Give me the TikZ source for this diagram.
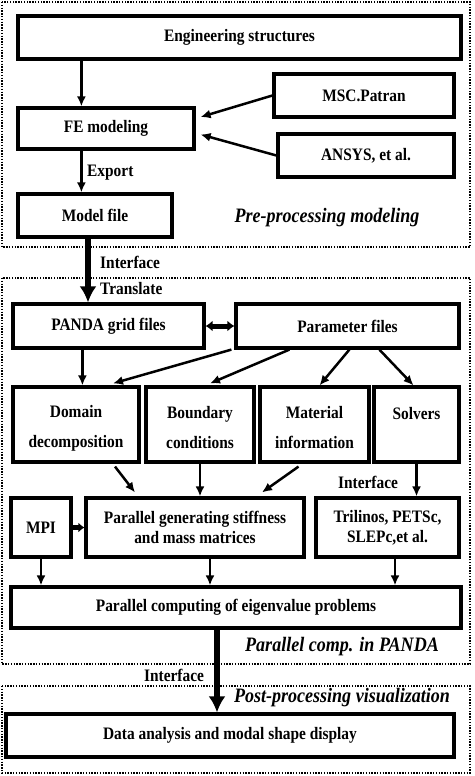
\documentclass[tikz,border=0pt]{standalone}
\usepackage{fontspec}
\setmainfont{Liberation Serif}[FakeStretch=0.88]
\usetikzlibrary{arrows.meta}
\begin{document}
\begin{tikzpicture}[x=1pt,y=-1pt,
  box/.style={draw, line width=3.2pt, inner sep=0pt, align=center,
    font=\fontsize{17.5}{20}\selectfont\bfseries},
  tallbox/.style={box, font=\fontsize{17.5}{30}\selectfont\bfseries},
  arr/.style={line width=2.5pt, -{Latex[length=10pt,width=9pt]}},
  thickarr/.style={line width=6.5pt, -{Latex[length=16pt,width=17pt]}},
  dbl/.style={line width=5pt, {Latex[length=7pt,width=11pt]}-{Latex[length=7pt,width=11pt]}},
  short/.style={line width=5pt, -{Latex[length=6pt,width=10pt]}},
  grp/.style={line width=1.6pt, dash pattern=on 1.4pt off 1.4pt},
  lbl/.style={inner sep=0pt, font=\fontsize{17.5}{20}\selectfont\bfseries},
  ital/.style={inner sep=0pt, font=\fontsize{20.5}{24}\selectfont\bfseries\itshape}]
\useasboundingbox (0,0) rectangle (474,776);
\fill[white] (0,0) rectangle (474,776);

% group frames
\draw[grp] (2,2) rectangle (470,247);
\draw[grp] (2,278) rectangle (470,664);
\draw[grp] (2,686) rectangle (470,773);

% boxes
\node[box, minimum width=443pt, minimum height=43pt] (eng) at (239.5,37.5) {Engineering structures};
\node[box, minimum width=176pt, minimum height=41pt] (fe) at (106,128.5) {FE modeling};
\node[box, minimum width=180pt, minimum height=43pt] (msc) at (364,95.5) {MSC.Patran};
\node[box, minimum width=176pt, minimum height=43pt] (ansys) at (366,155.5) {ANSYS, et al.};
\node[box, minimum width=154pt, minimum height=43pt] (model) at (95,215.5) {Model file};
\node[box, minimum width=191pt, minimum height=44pt] (panda) at (108.5,326) {PANDA grid files};
\node[box, minimum width=223pt, minimum height=44pt] (param) at (347.5,326) {Parameter files};
\node[tallbox, minimum width=126pt, minimum height=75pt] (dom) at (76,424.5) {\rule{0pt}{19pt}Domain\\decomposition};
\node[tallbox, minimum width=108pt, minimum height=75pt] (bnd) at (200,424.5) {\rule{0pt}{19pt}Boundary\\conditions};
\node[tallbox, minimum width=109pt, minimum height=75pt] (mat) at (314.5,424.5) {\rule{0pt}{19pt}Material\\information};
\node[tallbox, minimum width=85pt, minimum height=75pt] (sol) at (416.5,424.5) {\rule{0pt}{19pt}Solvers\\\phantom{X}};
\node[box, minimum width=60pt, minimum height=59pt] (mpi) at (41,527.5) {MPI};
\node[box, minimum width=218pt, minimum height=59pt] (pgen) at (195,527.5) {Parallel generating stiffness\\and mass matrices};
\node[box, minimum width=143pt, minimum height=59pt] (tril) at (387.5,527.5) {Trilinos, PETSc,\\SLEPc,et al.};
\node[box, minimum width=450pt, minimum height=41pt] (pcomp) at (236,607.5) {Parallel computing of eigenvalue problems};
\node[box, minimum width=448pt, minimum height=43pt] (data) at (230,735.5) {Data analysis and modal shape display};

% italic group labels
\node[ital] (tpre) at (327,218) {Pre-processing modeling};
\node[ital] (tpar) at (342,647) {Parallel comp. in PANDA};
\node[ital] (tpost) at (342,698) {Post-processing visualization};

% connector coordinates
\coordinate (c1) at ([xshift=65pt]eng.south west);
\coordinate (c2) at ([xshift=65pt]fe.south west);
\coordinate (c3) at ([xshift=-7pt]model.south);
\coordinate (c4) at ([xshift=71pt]panda.south west);
\coordinate (c5) at ([xshift=15pt]pgen.south);
\coordinate (c6) at ([xshift=7.5pt]tril.south);
\coordinate (c7) at ([xshift=-19pt]pcomp.south);

% connectors
\draw[arr] (c1) -- (c1 |- fe.north);
\draw[arr] (msc.west) -- ([xshift=5pt,yshift=11.5pt]fe.east);
\draw[arr] (ansys.west) -- ([xshift=5pt,yshift=-6pt]fe.east);
\draw[arr] (c2) -- (c2 |- model.north);
\draw[thickarr] (c3) -- (c3 |- panda.north);
\draw[dbl] (panda.east) -- (param.west);
\draw[arr] (c4) -- (c4 |- dom.north);
\draw[arr] ([xshift=-3pt]param.south west) -- ([xshift=37pt,yshift=2pt]dom.north);
\draw[arr] ([xshift=55pt]param.south west) -- ([xshift=10pt,yshift=2pt]bnd.north);
\draw[arr] ([xshift=115pt]param.south west) -- ([xshift=5pt]mat.north);
\draw[arr] ([xshift=145pt]param.south west) -- ([xshift=-3pt]sol.north);
\draw[arr] ([xshift=39pt,yshift=-3pt]dom.south) -- ([xshift=-60pt,yshift=4pt]pgen.north);
\draw[arr] (bnd.south) -- (bnd.south |- pgen.north);
\draw[arr] ([xshift=-16pt,yshift=-3pt]mat.south) -- ([xshift=67pt,yshift=4pt]pgen.north);
\draw[arr] (sol.south) -- (sol.south |- tril.north);
\draw[short] (mpi.east) -- (pgen.west);
\draw[arr] (mpi.south) -- (mpi.south |- pcomp.north);
\draw[arr] (c5) -- (c5 |- pcomp.north);
\draw[arr] (c6) -- (c6 |- pcomp.north);
\draw[thickarr] (c7) -- (c7 |- data.north);

% connector labels
\node[lbl, anchor=west] (lexp) at (87,173) {Export};
\node[lbl, anchor=west] (lint1) at (100,262) {Interface};
\node[lbl, anchor=west] (ltr) at (100,289) {Translate};
\node[lbl] (lint2) at (368,482) {Interface};
\node[lbl] (lint3) at (174,675) {Interface};
\end{tikzpicture}
\end{document}
